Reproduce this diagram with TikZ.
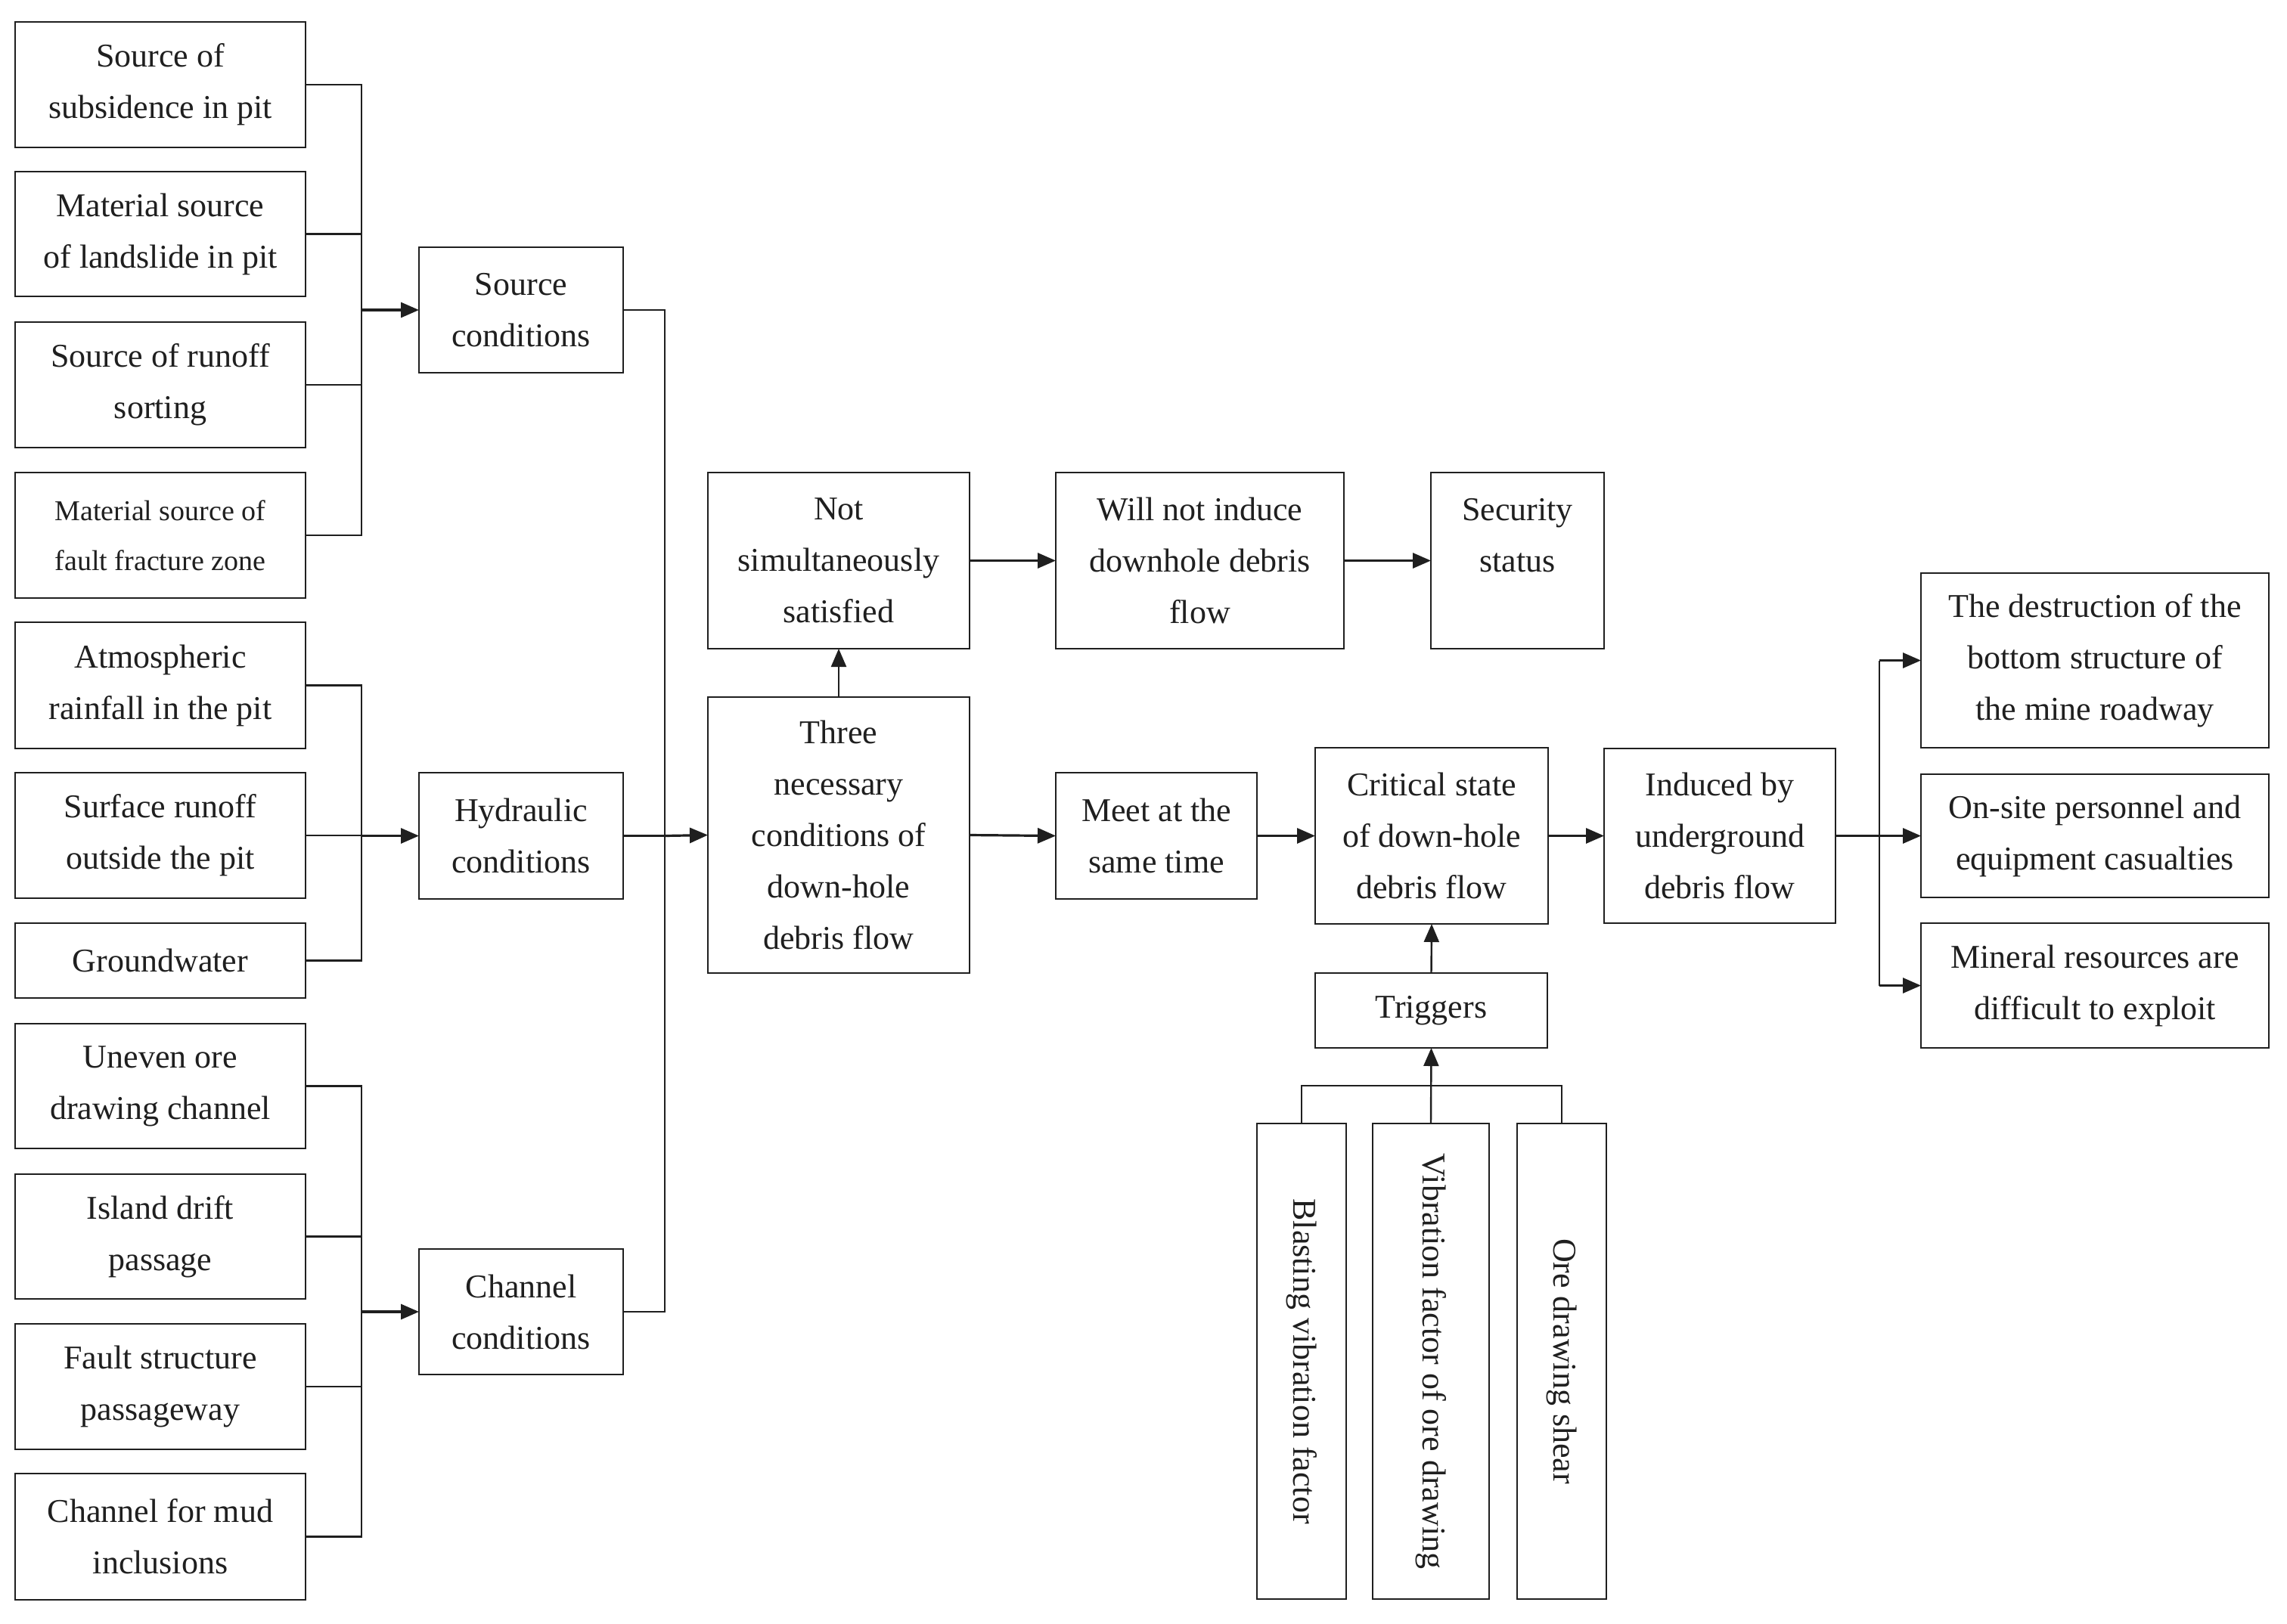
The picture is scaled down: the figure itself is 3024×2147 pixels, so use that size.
\documentclass[tikz,border=0pt]{standalone}
\usepackage{fontspec}
\usepackage{graphicx}
\setmainfont{Liberation Serif}
\usetikzlibrary{arrows.meta}
\definecolor{ink}{rgb}{0.12,0.12,0.12}
\newcommand{\bx}[7]{\node[box,#1,minimum width={(#5-#3)*0.5pt},minimum height={(#6-#4)*0.5pt}] (#2) at ({(#3+#5)/2},{(#4+#6)/2}) {#7};}
\begin{document}
\begin{tikzpicture}[x=0.5pt,y=-0.5pt,
  box/.style={draw=ink,line width=1.3pt,inner sep=0pt,outer sep=0pt,align=center,text=ink,font=\fontsize{22}{34}\selectfont},
  small/.style={font=\fontsize{19}{33}\selectfont},
  conn/.style={draw=ink,line width=1.2pt},
  arr/.style={draw=ink,line width=1.6pt,-{Triangle[length=12pt,width=10pt]}}]
\fill[white] (0,0) rectangle (3024,2147);
\useasboundingbox (0,0) rectangle (3024,2147);

% left column
\bx{}{s1}{20}{29}{404}{195}{Source of\\subsidence in pit}
\bx{}{s2}{20}{227}{404}{392}{Material source\\of landslide in pit}
\bx{}{s3}{20}{426}{404}{592}{Source of runoff\\sorting}
\bx{small}{s4}{20}{625}{404}{791}{Material source of\\fault fracture zone}
\bx{}{h1}{20}{823}{404}{990}{Atmospheric\\rainfall in the pit}
\bx{}{h2}{20}{1022}{404}{1188}{Surface runoff\\outside the pit}
\bx{}{h3}{20}{1221}{404}{1320}{Groundwater}
\bx{}{c1}{20}{1354}{404}{1519}{Uneven ore\\drawing channel}
\bx{}{c2}{20}{1553}{404}{1718}{Island drift\\passage}
\bx{}{c3}{20}{1751}{404}{1917}{Fault structure\\passageway}
\bx{}{c4}{20}{1949}{404}{2116}{Channel for mud\\inclusions}

% conditions
\bx{}{sc}{554}{327}{824}{493}{Source\\conditions}
\bx{}{hc}{554}{1022}{824}{1189}{Hydraulic\\conditions}
\bx{}{cc}{554}{1652}{824}{1818}{Channel\\conditions}

% middle
\bx{}{three}{936}{922}{1282}{1287}{Three\\necessary\\conditions of\\down-hole\\debris flow}
\bx{}{nots}{936}{625}{1282}{858}{Not\\simultaneously\\satisfied}
\bx{}{will}{1396}{625}{1777}{858}{Will not induce\\downhole debris\\flow}
\bx{}{sec}{1892}{625}{2121}{858}{Security\\status\\\mbox{}}
\bx{}{meet}{1396}{1022}{1662}{1189}{Meet at the\\same time}
\bx{}{crit}{1739}{989}{2047}{1222}{Critical state\\of down-hole\\debris flow}
\bx{}{ind}{2121}{990}{2427}{1221}{Induced by\\underground\\debris flow}
\bx{}{trig}{1739}{1287}{2046}{1386}{Triggers}
\bx{}{v1}{1662}{1486}{1780}{2115}{\rotatebox{-90}{Blasting vibration factor}}
\bx{}{v2}{1815}{1486}{1969}{2115}{\rotatebox{-90}{Vibration factor of ore drawing}}
\bx{}{v3}{2006}{1486}{2124}{2115}{\rotatebox{-90}{Ore drawing shear}}

% right
\bx{}{r1}{2540}{758}{3000}{989}{The destruction of the\\bottom structure of\\the mine roadway}
\bx{}{r2}{2540}{1024}{3000}{1187}{On-site personnel and\\equipment casualties}
\bx{}{r3}{2540}{1221}{3000}{1386}{Mineral resources are\\difficult to exploit}

% bus coordinates
\coordinate (busA) at (478,0);
\coordinate (busB) at (879,0);
\coordinate (busT) at (0,1436);
\coordinate (busR) at (2485,0);

% source group
\draw[conn] (s1.east) -| (s4.east -| busA) -- (s4.east);
\draw[conn] (s2.east) -- (s2.east -| busA);
\draw[conn] (s3.east) -- (s3.east -| busA);
\draw[arr] (sc.west -| busA) -- (sc.west);
% hydraulic group
\draw[conn] (h1.east) -| (h3.east -| busA) -- (h3.east);
\draw[conn] (h2.east) -- (h2.east -| busA);
\draw[arr] (hc.west -| busA) -- (hc.west);
% channel group
\draw[conn] (c1.east) -| (c4.east -| busA) -- (c4.east);
\draw[conn] (c2.east) -- (c2.east -| busA);
\draw[conn] (c3.east) -- (c3.east -| busA);
\draw[arr] (cc.west -| busA) -- (cc.west);

% conditions to three
\draw[conn] (sc.east) -| (cc.east -| busB) -- (cc.east);
\draw[conn] (hc.east) -- (hc.east -| busB);
\draw[arr] (hc.east -| busB) -- (three.west);

% middle flow
\draw[conn,-{Triangle[length=12pt,width=10pt]}] (three.north) -- (nots.south);
\draw[arr] (nots.east) -- (will.west);
\draw[arr] (will.east) -- (sec.west);
\draw[arr] (three.east) -- (meet.west);
\draw[arr] (meet.east) -- (crit.west);
\draw[arr] (crit.east) -- (ind.west);
\draw[conn,-{Triangle[length=12pt,width=10pt]}] (trig.north) -- (crit.south);

% triggers
\draw[conn] (v1.north) |- (v3.north |- busT) -- (v3.north);
\draw[conn,-{Triangle[length=12pt,width=10pt]}] (v2.north) -- (trig.south);

% consequences
\draw[arr] (ind.east) -- (r2.west);
\draw[conn] (r1.west -| busR) -- (r3.west -| busR);
\draw[arr] (r1.west -| busR) -- (r1.west);
\draw[arr] (r3.west -| busR) -- (r3.west);
\end{tikzpicture}
\end{document}
